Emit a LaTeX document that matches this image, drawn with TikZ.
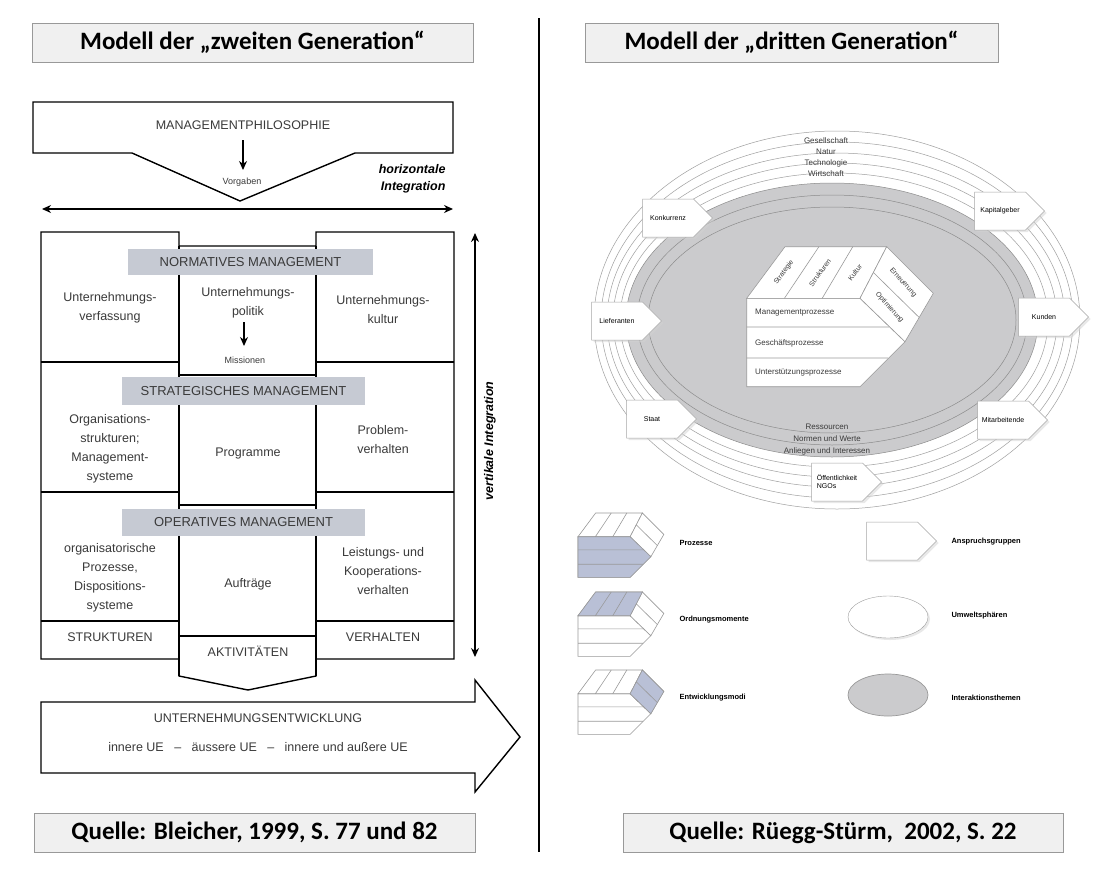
\documentclass[tikz,border=0pt]{standalone}
\usepackage{fontspec}
\setmainfont{Liberation Sans}
\newfontfamily\hdr{Carlito}
\usetikzlibrary{shapes.symbols,shadows,arrows.meta}
\definecolor{band}{HTML}{C6CAD3}
\definecolor{ring}{HTML}{CBCBCD}
\definecolor{leg}{HTML}{B9C0D6}
\definecolor{txt}{HTML}{3A3A3A}
\tikzset{
 hbox/.style={draw=gray!80,fill=gray!12,line width=0.8pt,minimum height=39pt,font=\hdr\bfseries\fontsize{25}{28}\selectfont},
 cell/.style={align=center,text=txt,font=\fontsize{12.5}{19}\selectfont},
 bandlbl/.style={fill=band,text=txt,inner sep=0pt,font=\fontsize{13}{15}\selectfont},
 frame/.style={line width=1.4pt,line join=miter},
 arr/.style={line width=1.4pt,-{Stealth[length=9pt,width=8pt]}},
 darr/.style={line width=1.4pt,{Stealth[length=9pt,width=8pt]}-{Stealth[length=9pt,width=8pt]}},
 stake/.style={signal,signal to=east,draw=gray!70,fill=white,line width=0.5pt,minimum width=70pt,minimum height=38pt,inner sep=2pt,font=\fontsize{7}{8}\selectfont,drop shadow={shadow xshift=2pt,shadow yshift=-2pt,fill=gray!35}},
 tiny/.style={font=\fontsize{8}{9}\selectfont,text=txt,inner sep=1pt},
 ctiny/.style={font=\fontsize{7}{8}\selectfont,text=txt,inner sep=0pt},
 legl/.style={font=\bfseries\fontsize{7.5}{9}\selectfont,anchor=west},
 cube/.style={draw=gray!80,line width=0.6pt,line join=miter}
}
\newcommand{\mycube}[4]{% shift x, shift y, scale, shading mode
\begin{scope}[shift={(#1,#2)},scale=#3]
 \path[cube,fill=white] (0,51.6)--(113.3,51.6)--(158.3,95)--(113.3,140)--(0,140)--cycle;
 \path[cube,fill=white] (0,51.6)--(38.3,0)--(140,0)--(113.3,51.6)--cycle;
 \path[cube,fill=white] (113.3,51.6)--(140,0)--(186.6,46.6)--(158.3,95)--cycle;
 \ifnum#4=1 \path[cube,fill=leg] (0,51.6)--(113.3,51.6)--(158.3,95)--(113.3,140)--(0,140)--cycle;\fi
 \ifnum#4=2 \path[cube,fill=leg] (0,51.6)--(38.3,0)--(140,0)--(113.3,51.6)--cycle;\fi
 \ifnum#4=3 \path[cube,fill=leg] (113.3,51.6)--(140,0)--(186.6,46.6)--(158.3,95)--cycle;\fi
 \draw[cube] (0,80.3)--(142.3,80.3) (0,111.3)--(141.3,111.3)
   (37.7,51.6)--(72.2,0) (75.5,51.6)--(106.1,0) (126.7,25.8)--(172.5,70.8);
\end{scope}}
\begin{document}
\begin{tikzpicture}[x=1pt,y=-1pt]
\useasboundingbox[fill=white] (0,0) rectangle (1116,878);
% headers
\node[hbox,minimum width=441pt] (h1) at (252.5,42.5) {Modell der „zweiten Generation“};
\node[hbox,minimum width=413pt] (h2) at (791.5,42.5) {Modell der „dritten Generation“};
\node[hbox,minimum width=441pt] (q1) at (254.5,832.5) {Quelle: Bleicher, 1999, S. 77 und 82};
\node[hbox,minimum width=440pt] (q2) at (843,832.5) {Quelle: Rüegg-Stürm,\ \ 2002, S. 22};
\draw[line width=2pt] (539,18)--(539,852);
% ---------- left ----------
\draw[frame] (33,102)--(453,102)--(453,153)--(355,153)--(240,201)--(132,153)--(33,153)--cycle;
\node[cell] (mp) at (243,125) {MANAGEMENTPHILOSOPHIE};
\node[cell,font=\fontsize{9}{10}\selectfont] (vg) at (242,182) {Vorgaben};
\coordinate (a1) at (243,140); \coordinate (a2) at (243,170);
\draw[arr] (a1)--(a2);
\node[font=\bfseries\itshape\fontsize{12.5}{17}\selectfont,align=right,anchor=east] (hi) at (449,179) {horizontale\\Integration};
\coordinate (hl) at (42,209); \coordinate (hr) at (453,209);
\draw[darr] (hl)--(hr);
% main frame
\draw[frame] (41,232)--(179,232)--(179,246)--(316,246)--(316,232)--(454,232)--(454,659)--(316,659)--(316,676)--(248,690)--(179,676)--(179,659)--(41,659)--cycle;
\draw[frame] (179,246)--(179,676) (316,246)--(316,676);
\draw[frame] (41,362)--(179,362) (316,362)--(454,362) (179,375)--(316,375);
\draw[frame] (41,492)--(179,492) (316,492)--(454,492) (179,505)--(316,505);
\draw[frame] (41,621)--(179,621) (316,621)--(454,621) (179,636)--(316,636);
\node[bandlbl,minimum width=245pt,minimum height=26pt] (nm) at (250.5,262) {NORMATIVES MANAGEMENT};
\node[bandlbl,minimum width=243pt,minimum height=28pt] (sm) at (243.5,391) {STRATEGISCHES MANAGEMENT};
\node[bandlbl,minimum width=243pt,minimum height=27pt] (om) at (243.5,522.5) {OPERATIVES MANAGEMENT};
\node[cell] (c11) at (110,308) {Unternehmungs-\\verfassung};
\node[cell] (c12) at (248,303) {Unternehmungs-\\politik};
\node[cell,font=\fontsize{9}{10}\selectfont] (mi) at (245,360) {Missionen};
\coordinate (b1) at (244,322); \coordinate (b2) at (244,346);
\draw[arr] (b1)--(b2);
\node[cell] (c13) at (383,310) {Unternehmungs-\\kultur};
\node[cell] (c21) at (110,449) {Organisations-\\strukturen;\\Management-\\systeme};
\node[cell] (c22) at (248,453) {Programme};
\node[cell] (c23) at (383,440) {Problem-\\verhalten};
\node[cell] (c31) at (110,578) {organisatorische\\Prozesse,\\Dispositions-\\systeme};
\node[cell] (c32) at (248,584) {Aufträge};
\node[cell] (c33) at (383,571) {Leistungs- und\\Kooperations-\\verhalten};
\node[cell] (st) at (110,637) {STRUKTUREN};
\node[cell] (ak) at (248,651) {AKTIVITÄTEN};
\node[cell] (vh) at (383,637) {VERHALTEN};
\coordinate (vt) at (475,233); \coordinate (vb) at (475,657);
\draw[darr] (vb)--(vt);
\node[rotate=90,font=\bfseries\itshape\fontsize{12.5}{15}\selectfont] (vi) at (490,441) {vertikale Integration};
\draw[frame] (41,702)--(475,702)--(475,680)--(520,737)--(475,792)--(475,773)--(41,773)--cycle;
\node[cell] (ue) at (258,718) {UNTERNEHMUNGSENTWICKLUNG};
\node[cell] (ue2) at (258,747) {innere UE\ \ \ –\ \ \ äussere UE\ \ \ –\ \ \ innere und außere UE};
% ---------- right ----------
\begin{scope}[draw=gray!75,line width=0.5pt]
\draw[fill=white] (837,320) ellipse [x radius=243,y radius=189];
\draw (837,320) ellipse [x radius=236,y radius=178];
\draw (836,320) ellipse [x radius=229,y radius=167];
\draw (835,320) ellipse [x radius=222,y radius=157];
\draw (834,320) ellipse [x radius=214,y radius=147];
\draw[fill=ring,draw=gray!90] (832,320) ellipse [x radius=206,y radius=137];
\draw[draw=gray!90] (832,320) ellipse [x radius=195,y radius=125];
\draw[draw=gray!90] (832,320) ellipse [x radius=184,y radius=113];
\end{scope}
\node[tiny] (r1) at (826,141) {Gesellschaft};
\node[tiny] (r2) at (826,152) {Natur};
\node[tiny] (r3) at (826,163) {Technologie};
\node[tiny] (r4) at (826,174) {Wirtschaft};
\node[tiny] (r5) at (827,427) {Ressourcen};
\node[tiny] (r6) at (827,439) {Normen und Werte};
\node[tiny] (r7) at (827,451) {Anliegen und Interessen};
% cube
\mycube{746.7}{246.7}{1}{0}
\node[tiny,anchor=west] (k1) at (754,313) {Managementprozesse};
\node[tiny,anchor=west] (k2) at (754,343) {Geschäftsprozesse};
\node[tiny,anchor=west] (k3) at (754,373) {Unterstützungsprozesse};
\node[ctiny,rotate=54] (k4) at (784,272.5) {Strategie};
\node[ctiny,rotate=54] (k5) at (820,272.5) {Strukturen};
\node[ctiny,rotate=54] (k6) at (855,272.5) {Kultur};
\node[ctiny,rotate=-48] (k7) at (903,282.5) {Erneuerung};
\node[ctiny,rotate=-48] (k8) at (889.5,307.5) {Optimierung};
% stakeholders
\node[stake] (s1) at (668,218) {Konkurrenz};
\node[stake] (s2) at (1000,211) {Kapitalgeber};
\node[stake] (s3) at (617,321) {Lieferanten};
\node[stake] (s4) at (1044,317) {Kunden};
\node[stake] (s5) at (652,419) {Staat};
\node[stake] (s6) at (1003,420) {Mitarbeitende};
\node[stake,align=left] (s7) at (837,482) {Öffentlichkeit\\NGOs};
% legend
\mycube{578}{513}{0.46}{1}
\mycube{578}{592}{0.46}{2}
\mycube{578}{670}{0.46}{3}
\node[legl] (l1) at (676,543) {Prozesse};
\node[legl] (l2) at (676,620) {Ordnungsmomente};
\node[legl] (l3) at (676,698) {Entwicklungsmodi};
\node[stake] (l4s) at (892,541) {};
\draw[draw=gray!75,fill=white,drop shadow={shadow xshift=2pt,shadow yshift=-2pt,fill=gray!35}] (888,617) ellipse [x radius=40,y radius=21];
\draw[draw=gray!80,fill=ring,line width=0.7pt] (888,695) ellipse [x radius=40,y radius=21];
\node[legl] (l4) at (948,542) {Anspruchsgruppen};
\node[legl] (l5) at (948,616) {Umweltsphären};
\node[legl] (l6) at (948,698) {Interaktionsthemen};
\end{tikzpicture}
\end{document}
